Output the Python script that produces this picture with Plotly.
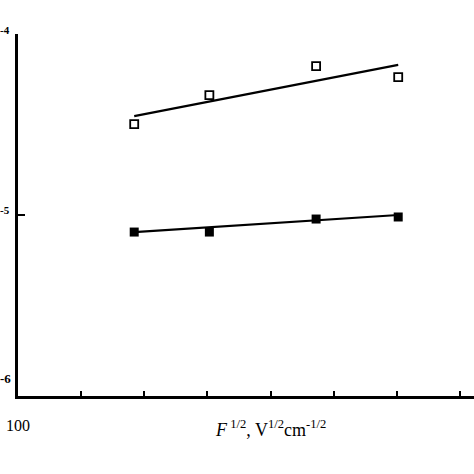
import plotly.graph_objects as go

# F^1/2 values of the measured points
field_sqrt = [284, 403, 572, 702]
# open squares (upper set) and filled squares (lower set)
upper_vals = [3.18e-5, 4.60e-5, 6.65e-5, 5.78e-5]
lower_vals = [8.05e-6, 8.05e-6, 9.5e-6, 9.75e-6]

# straight fit lines, end points
fit_x = [284, 702]
fit_upper = [3.52e-5, 6.75e-5]
fit_lower = [8.05e-6, 1.0e-5]

x_ticks = [100, 200, 300, 400, 500, 600, 700, 800]
y_ticks = [1e-6, 1e-5, 1e-4]
y_labels = ["-6", "-5", "-4"]

fig = go.Figure()

fig.add_trace(go.Scatter(x=fit_x, y=fit_upper, mode="lines",
                         line=dict(color="black", width=2.2), showlegend=False))
fig.add_trace(go.Scatter(x=fit_x, y=fit_lower, mode="lines",
                         line=dict(color="black", width=2.2), showlegend=False))
fig.add_trace(go.Scatter(x=field_sqrt, y=upper_vals, mode="markers",
                         marker=dict(symbol="square-open", size=8, color="black",
                                     line=dict(width=1.8)),
                         showlegend=False))
fig.add_trace(go.Scatter(x=field_sqrt, y=lower_vals, mode="markers",
                         marker=dict(symbol="square", size=9, color="black"),
                         showlegend=False))

# tick labels are cut off at the left edge in the original, only the exponents show
label_shift = {"-4": 4, "-5": 5, "-6": 18}
for i, lab in enumerate(y_labels):
    fig.add_annotation(x=0, xref="paper", xshift=-13, y=-6 + i,
                       yref="y", yshift=label_shift[lab], text="<b>" + lab + "</b>",
                       showarrow=False, xanchor="center",
                       font=dict(family="Liberation Serif", size=11 if lab != "-6" else 13,
                                 color="black"))

fig.add_annotation(x=x_ticks[0], xref="x", y=0, yref="paper",
                   text="100", showarrow=False, yshift=-40,
                   font=dict(family="Liberation Serif", size=16, color="black"))
fig.add_annotation(x=0.553, xref="paper", y=0, yref="paper", yshift=-46,
                   text="<i>F</i><sup> 1/2</sup>, V<sup>1/2</sup>cm<sup>-1/2</sup>",
                   showarrow=False,
                   font=dict(family="Liberation Serif", size=18, color="black"))

fig.update_layout(
    width=474, height=474,
    margin=dict(l=18, r=0, t=34, b=78),
    paper_bgcolor="white", plot_bgcolor="white",
)
fig.update_xaxes(range=[100, 822], tickvals=x_ticks, showticklabels=False,
                 ticks="inside", ticklen=5, tickwidth=2, tickcolor="black",
                 showline=True, linecolor="black", linewidth=2.5,
                 showgrid=False, zeroline=False)
fig.update_yaxes(type="log", range=[-6, -4], tickvals=y_ticks, showticklabels=False,
                 ticks="inside", ticklen=7, tickwidth=2, tickcolor="black",
                 showline=True, linecolor="black", linewidth=2.5,
                 showgrid=False, zeroline=False)

# drop the default page margin so the figure sits at the window corner
fig.write_html("out.html", config={"displayModeBar": False},
               post_script="document.body.style.margin='0';")
